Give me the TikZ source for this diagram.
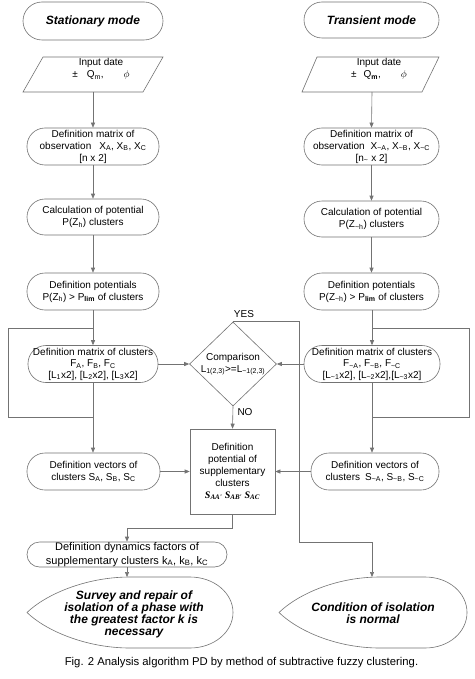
\documentclass[tikz,border=0pt]{standalone}
\usepackage{fontspec}
\setmainfont{Liberation Sans}
\newfontfamily\serifbi{Liberation Serif}
\usetikzlibrary{shapes.geometric,arrows.meta,calc}
\newcommand\sbb[1]{\textsubscript{#1}}
\newcommand\tl{\textasciitilde}
\newcommand\bodyfont{\fontsize{10}{12}\selectfont}
\newcommand\titlefont{\fontsize{12}{14}\selectfont\bfseries\itshape}
\newcommand\finfont{\fontsize{12}{12}\selectfont\bfseries\itshape}
\begin{document}
\begin{tikzpicture}[x=1pt,y=-1pt,
  line/.style={draw=black!55, line width=0.6pt},
  arr/.style={line, -{Triangle[length=5pt,width=4pt]}},
  txt/.style={align=center, inner sep=0pt, font=\bodyfont, text=black},
  stad/.style={line, rectangle, rounded corners=18pt, minimum height=37pt, align=center, inner sep=0pt, font=\bodyfont, text=black},
  title/.style={stad, font=\titlefont},
  sqbox/.style={line, rectangle, align=center, inner sep=0pt, font=\bodyfont, text=black},
  dia/.style={line, diamond, inner sep=0pt, minimum width=87pt, minimum height=84pt}
]
\useasboundingbox (0,0) rectangle (474,679);
\fill[white] (0,0) rectangle (474,679);

% titles
\node[title, minimum width=140pt, minimum height=38pt, rounded corners=19pt] (modeL) at (93,21) {Stationary mode};
\node[title, minimum width=135pt, minimum height=36pt, rounded corners=18pt] (modeR) at (371.5,20) {Transient mode};

% input parallelograms
\draw[line] (43,57) -- (163,57) -- (143,92) -- (23,92) -- cycle;
\node[txt] (inL) at (101,69) {Input date\\ ±\hspace{9pt}Q\sbb{m},\hspace{20pt}$\phi$};
\coordinate (inLb) at (93,92);
\draw[line] (317,57) -- (439,57) -- (422,92) -- (302,92) -- cycle;
\node[txt] (inR) at (379,69) {Input date\\ ±\hspace{7pt}Q\sbb{\textbf{m}},\hspace{20pt}$\phi$};
\coordinate (inRb) at (372,92);

% left column
\node[stad, minimum width=132pt] (defL) at (93,146.5) {Definition matrix of\\observation\hspace{8pt}X\sbb{A}, X\sbb{B}, X\sbb{C}\\{[n x 2]}};
\node[stad, minimum width=132pt, minimum height=36pt] (calcL) at (93,217) {Calculation of potential\\P(Z\sbb{h}) clusters};
\node[stad, minimum width=132pt] (potL) at (93,291.5) {Definition potentials\\P(Z\sbb{h}) > P\sbb{\textbf{lim}} of clusters};
\node[stad, minimum width=130pt, font=\fontsize{10}{11.5}\selectfont] (clL) at (93,364) {Definition matrix of clusters\\F\sbb{A}, F\sbb{B}, F\sbb{C}\\{[L\sbb{1}x2], [L\sbb{2}x2], [L\sbb{3}x2]}};
\node[stad, minimum width=133pt] (vecL) at (93.5,471.5) {Definition vectors of\\clusters S\sbb{A}, S\sbb{B}, S\sbb{C}};

% right column
\node[stad, minimum width=135pt] (defR) at (371.5,146.5) {Definition matrix of\\observation\hspace{6pt}X\sbb{\tl A}, X\sbb{\tl B}, X\sbb{\tl C}\\{[n\sbb{\tl} x 2]}};
\node[stad, minimum width=135pt, minimum height=36pt] (calcR) at (371.5,219) {Calculation of potential\\P(Z\sbb{\tl h}) clusters};
\node[stad, minimum width=135pt] (potR) at (371.5,291.5) {Definition potentials\\P(Z\sbb{\tl h}) > P\sbb{\textbf{lim}} of clusters};
\node[stad, minimum width=136pt, font=\fontsize{10}{11.5}\selectfont] (clR) at (372,364) {Definition matrix of clusters\\F\sbb{\tl A}, F\sbb{\tl B}, F\sbb{\tl C}\\{[L\sbb{\tl 1}x2], [L\sbb{\tl 2}x2],[L\sbb{\tl 3}x2]}};
\node[stad, minimum width=128pt] (vecR) at (375,471.5) {Definition vectors of\\clusters\hspace{5pt}S\sbb{\tl A}, S\sbb{\tl B}, S\sbb{\tl C}};

% centre
\node[dia] (cmp) at (233,364) {};
\node[txt] (cmpt) at (233,364) {Comparison\\L\sbb{1(2,3)}>=L\sbb{\tl 1(2,3)}};
\node[sqbox, minimum width=85pt, minimum height=85pt] (sup) at (232.5,471.5) {Definition\\potential of\\supplementary\\clusters\\{\serifbi\bfseries\itshape S\sbb{AA'} S\sbb{AB'} S\sbb{AC}}};
\node[txt] (yes) at (244,314) {YES};
\node[txt] (no) at (245,412) {NO};

% bottom
\node[stad, minimum width=200pt, minimum height=25pt, rounded corners=12.5pt, font=\fontsize{11}{13.5}\selectfont] (dyn) at (127,554.5) {Definition dynamics factors of\\supplementary clusters k\sbb{A}, k\sbb{B}, k\sbb{C}};

\draw[line] (130,577) -- (190,577) .. controls (214,577) and (233,593) .. (233,612.5) .. controls (233,632) and (214,648) .. (190,648) -- (130,648) .. controls (85,648) and (45,630) .. (27,612.5) .. controls (45,595) and (85,577) .. (130,577) -- cycle;
\node[txt, font=\finfont] (sv) at (134,614.5) {Survey and repair of\\isolation of a phase with\\the greatest factor k is\\necessary};
\coordinate (svTop) at (127,577);

\draw[line] (380,577) -- (425,577) .. controls (449,577) and (467,593) .. (467,612.5) .. controls (467,632) and (449,648) .. (425,648) -- (380,648) .. controls (335,648) and (297,630) .. (279,612.5) .. controls (297,595) and (335,577) .. (380,577) -- cycle;
\node[txt, font=\finfont] (cd) at (373,613) {Condition of isolation\\is normal};
\coordinate (cdTop) at (372,577);

\node[txt, font=\fontsize{11.3}{13}\selectfont] (cap) at (241.5,663) {Fig. 2 Analysis algorithm PD by method of subtractive fuzzy clustering.};

% connectors left
\draw[arr] (inLb) -- (defL.north);
\draw[arr] (defL.south) -- (calcL.north);
\draw[arr] (calcL.south) -- (potL.north);
\draw[arr] (potL.south) -- (clL.north);
\draw[arr] (clL.south) -- (vecL.north -| clL.south);
\coordinate (bL1) at (93,328);
\coordinate (bL2) at (93,417);
\draw[line] (bL1) -- ++(-85,0) |- (bL2);
% connectors right
\draw[arr] (inRb) -- (defR.north);
\draw[arr] (defR.south) -- (calcR.north);
\draw[arr] (calcR.south) -- (potR.north);
\draw[arr] (potR.south -| clR.north) -- (clR.north);
\draw[arr] (clR.south) -- (vecR.north -| clR.south);
\coordinate (bR1) at (372,328);
\coordinate (bR2) at (372,417);
\draw[line] (bR1) -- ++(97,0) |- (bR2);
% centre connectors
\draw[arr] (clL.east) -- (cmp.west);
\draw[arr] (clR.west) -- (cmp.east);
\draw[arr] (cmp.south) -- (sup.north);
\draw[arr] (vecL.east) -- (sup.west);
\draw[arr] (vecR.west) -- (sup.east);
\coordinate (yk) at (299,542);
\draw[arr] (cmp.north) -| (yk) -| (cdTop);
\draw[arr] (sup.south) -- ++(0,14) -| (dyn.north);
\draw[arr] (dyn.south) -- (svTop);
\end{tikzpicture}
\end{document}
